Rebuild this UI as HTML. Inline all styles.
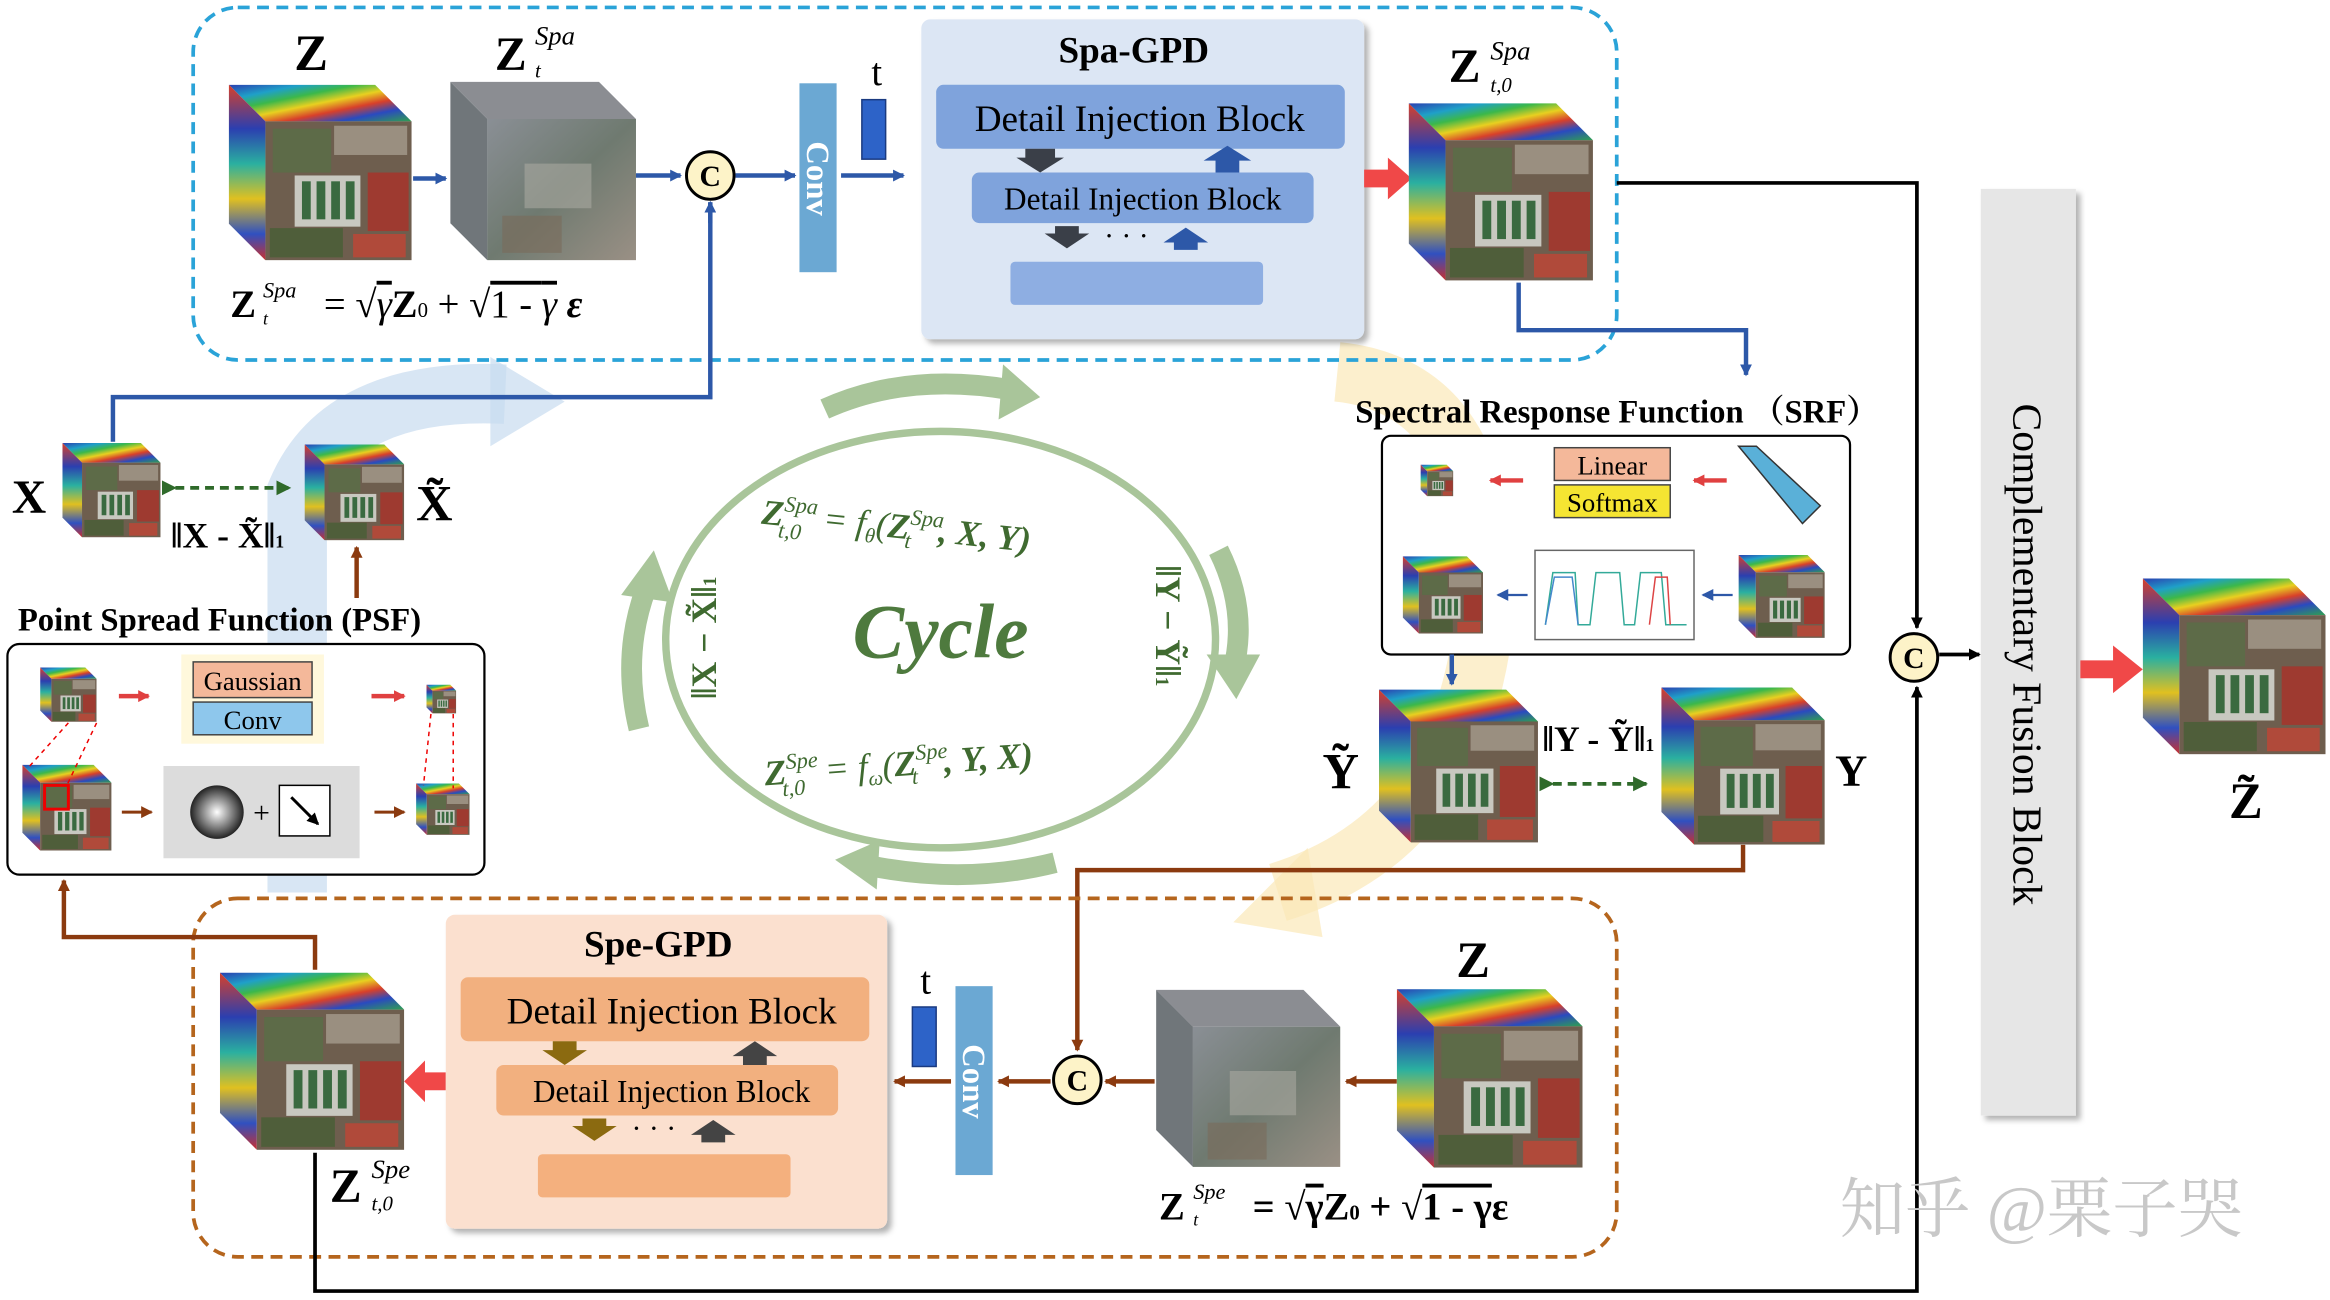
<!DOCTYPE html>
<html><head><meta charset="utf-8">
<style>
html,body{margin:0;padding:0;background:#fff;}
svg{display:block;}
text{font-family:"Liberation Serif","Noto Serif CJK SC",serif;}
</style></head>
<body>
<svg width="2330" height="1300" viewBox="0 0 1568 874" preserveAspectRatio="none" xmlns="http://www.w3.org/2000/svg">
<defs>
<linearGradient id="rb" x1="0" y1="0" x2="1" y2="1">
<stop offset="0" stop-color="#2b3fb0"/><stop offset=".2" stop-color="#1fa0c8"/><stop offset=".35" stop-color="#3cb84a"/><stop offset=".5" stop-color="#e8d020"/><stop offset=".65" stop-color="#d8402a"/><stop offset=".8" stop-color="#2a4ac0"/><stop offset="1" stop-color="#30a050"/>
</linearGradient>
<linearGradient id="rb2" x1="0" y1="0" x2="0" y2="1">
<stop offset="0" stop-color="#d8402a"/><stop offset=".25" stop-color="#2b3fb0"/><stop offset=".45" stop-color="#2ab0a0"/><stop offset=".65" stop-color="#e0c020"/><stop offset=".85" stop-color="#3050c0"/><stop offset="1" stop-color="#c83030"/>
</linearGradient>
<linearGradient id="gr" x1="0" y1="0" x2="1" y2="1">
<stop offset="0" stop-color="#8a8f95"/><stop offset=".5" stop-color="#6f7a70"/><stop offset="1" stop-color="#9a9085"/>
</linearGradient>
<radialGradient id="gs"><stop offset="0" stop-color="#fff"/><stop offset="1" stop-color="#222"/></radialGradient>
<symbol id="cube" viewBox="0 0 125 120">
<polygon points="0,0 100,0 125,25 25,25" fill="url(#rb)"/>
<polygon points="0,0 25,25 25,120 0,95" fill="url(#rb2)"/>
<rect x="25" y="25" width="100" height="95" fill="#6e5e4e"/>
<rect x="30" y="30" width="40" height="30" fill="#5d6b48"/>
<rect x="72" y="28" width="50" height="20" fill="#9a8f80"/>
<rect x="45" y="62" width="45" height="35" fill="#c8c8c0"/>
<rect x="50" y="66" width="6" height="26" fill="#3a6a40"/><rect x="60" y="66" width="6" height="26" fill="#3a6a40"/><rect x="70" y="66" width="6" height="26" fill="#3a6a40"/><rect x="80" y="66" width="6" height="26" fill="#3a6a40"/>
<rect x="95" y="60" width="28" height="40" fill="#9e3a30"/>
<rect x="28" y="98" width="50" height="20" fill="#4f5e3a"/>
<rect x="85" y="102" width="36" height="16" fill="#b04a3a"/>
</symbol>
<symbol id="gcube" viewBox="0 0 125 120">
<polygon points="0,0 100,0 125,25 25,25" fill="#8b8d92"/>
<polygon points="0,0 25,25 25,120 0,95" fill="#70767a"/>
<rect x="25" y="25" width="100" height="95" fill="url(#gr)"/>
<rect x="50" y="55" width="45" height="30" fill="#a9a9a0" opacity=".6"/>
<rect x="35" y="90" width="40" height="25" fill="#7a6a5a" opacity=".6"/>
</symbol>
<marker id="ab" markerWidth="8" markerHeight="8" refX="7" refY="4" orient="auto" markerUnits="userSpaceOnUse"><path d="M0,0 L8,4 L0,8z" fill="#2d58a8"/></marker>
<marker id="ak" markerWidth="8" markerHeight="8" refX="7" refY="4" orient="auto" markerUnits="userSpaceOnUse"><path d="M0,0 L8,4 L0,8z" fill="#000"/></marker>
<marker id="ar" markerWidth="8" markerHeight="8" refX="7" refY="4" orient="auto" markerUnits="userSpaceOnUse"><path d="M0,0 L8,4 L0,8z" fill="#8b3a0f"/></marker>
<marker id="ag" markerWidth="10" markerHeight="10" refX="9" refY="5" orient="auto" markerUnits="userSpaceOnUse"><path d="M0,0 L10,5 L0,10z" fill="#2f6a2a"/></marker>
<marker id="ad" markerWidth="8" markerHeight="8" refX="7" refY="4" orient="auto" markerUnits="userSpaceOnUse"><path d="M0,0 L8,4 L0,8z" fill="#e04040"/></marker>
<filter id="sh"><feDropShadow dx="3" dy="3" stdDeviation="2" flood-opacity=".3"/></filter>
</defs>

<path d="M340,265 Q230,260 200,330 L200,600" stroke="#c8dcef" stroke-width="40" fill="none" opacity=".7"/>
<polygon points="330,240 380,270 330,300" fill="#c8dcef" opacity=".7"/>
<path d="M900,250 Q1000,260 1000,400 Q990,560 860,600" stroke="#fbe8b8" stroke-width="40" fill="none" opacity=".7"/>
<polygon points="880,570 830,620 890,630" fill="#fbe8b8" opacity=".7"/>

<rect x="130" y="5" width="958" height="237" rx="30" fill="none" stroke="#2aa3d8" stroke-width="2.5" stroke-dasharray="8,5"/>
<text x="198" y="47" font-size="34" font-weight="bold">Z</text>
<use href="#cube" x="153" y="57" width="125" height="118"/>
<text x="333" y="47" font-size="32" font-weight="bold">Z</text><text x="360" y="30" font-size="18" font-style="italic">Spa</text><text x="360" y="52" font-size="14" font-style="italic">t</text>
<use href="#gcube" x="303" y="55" width="125" height="120"/>
<line x1="278" y1="120" x2="300" y2="120" stroke="#2d58a8" stroke-width="3" marker-end="url(#ab)"/>
<line x1="428" y1="118" x2="458" y2="118" stroke="#2d58a8" stroke-width="3" marker-end="url(#ab)"/>
<circle cx="478" cy="118" r="16" fill="#fdf3c8" stroke="#000" stroke-width="2"/><text x="478" y="125" font-size="20" text-anchor="middle" font-weight="bold">C</text>
<line x1="495" y1="118" x2="535" y2="118" stroke="#2d58a8" stroke-width="3" marker-end="url(#ab)"/>
<rect x="538" y="56" width="25" height="127" fill="#6ba8d3"/><text transform="translate(543,120) rotate(90)" font-size="22" fill="#fff" text-anchor="middle" font-weight="bold">Conv</text>
<line x1="566" y1="118" x2="608" y2="118" stroke="#2d58a8" stroke-width="3" marker-end="url(#ab)"/>
<text x="590" y="57" font-size="26" text-anchor="middle">t</text>
<rect x="580" y="67" width="16" height="40" fill="#2d63c8" stroke="#1a3a80"/>
<rect x="620" y="13" width="298" height="215" rx="6" fill="#dce6f4" filter="url(#sh)"/>
<text x="763" y="42" font-size="25" font-weight="bold" text-anchor="middle">Spa-GPD</text>
<rect x="630" y="57" width="275" height="43" rx="5" fill="#7fa3dc"/><text x="767" y="88" font-size="25" text-anchor="middle" font-family="Liberation Sans,sans-serif">Detail Injection Block</text>
<polygon points="690,100 710,100 710,106 716,106 700,116 684,106 690,106" fill="#3a3f48"/>
<polygon points="818,116 834,116 834,108 842,108 826,98 810,108 818,108" fill="#2d58a8"/>
<rect x="654" y="116" width="230" height="34" rx="5" fill="#7fa3dc"/><text x="769" y="141" font-size="21" text-anchor="middle" font-family="Liberation Sans,sans-serif">Detail Injection Block</text>
<polygon points="710,152 726,152 726,157 733,157 718,167 703,157 710,157" fill="#3a3f48"/>
<text x="758" y="165" font-size="20" text-anchor="middle">· · ·</text>
<polygon points="790,168 806,168 806,163 813,163 798,153 783,163 790,163" fill="#2d58a8"/>
<rect x="680" y="176" width="170" height="29" rx="3" fill="#8eaee2"/>
<polygon points="918,114 934,114 934,106 950,120 934,134 934,126 918,126" fill="#f04848"/>
<text x="975" y="55" font-size="32" font-weight="bold">Z</text><text x="1003" y="40" font-size="18" font-style="italic">Spa</text><text x="1003" y="62" font-size="14" font-style="italic">t,0</text>
<use href="#cube" x="948" y="68" width="124" height="122"/>
<text x="155" y="213" font-size="26" font-weight="bold">Z</text><text x="177" y="200" font-size="15" font-style="italic">Spa</text><text x="177" y="218" font-size="12" font-style="italic">t</text>
<text x="218" y="213" font-size="26">= √<tspan font-style="italic" text-decoration="overline">γ</tspan><tspan font-weight="bold">Z</tspan><tspan font-size="14">0</tspan> + √<tspan text-decoration="overline">1 - <tspan font-style="italic">γ</tspan></tspan> <tspan font-style="italic" font-weight="bold">ε</tspan></text>

<polyline points="1088,123 1290,123 1290,422" fill="none" stroke="#000" stroke-width="2.5" marker-end="url(#ak)"/>
<polyline points="1022,190 1022,222 1175,222 1175,252" fill="none" stroke="#2d58a8" stroke-width="3" marker-end="url(#ab)"/>
<polyline points="478,136 478,267 76,267 76,297" fill="none" stroke="#2d58a8" stroke-width="3"/>
<line x1="478" y1="150" x2="478" y2="136" stroke="#2d58a8" stroke-width="3" marker-end="url(#ab)"/>

<text x="8" y="345" font-size="32" font-weight="bold">X</text>
<use href="#cube" x="42" y="297" width="66" height="65"/>
<line x1="118" y1="328" x2="195" y2="328" stroke="#2f6a2a" stroke-width="2.5" stroke-dasharray="6,4" marker-end="url(#ag)" marker-start="url(#ag)"/>
<text x="115" y="368" font-size="24" font-weight="bold">‖X - X̃‖<tspan font-size="12">1</tspan></text>
<use href="#cube" x="205" y="297" width="67" height="68"/>
<text x="280" y="350" font-size="34" font-weight="bold">X̃</text>
<line x1="240" y1="402" x2="240" y2="368" stroke="#8b3a0f" stroke-width="3" marker-end="url(#ar)"/>
<text x="12" y="424" font-size="22" font-weight="bold">Point Spread Function (PSF)</text>
<rect x="5" y="433" width="321" height="155" rx="8" fill="#fff" stroke="#000" stroke-width="1.5"/>
<use href="#cube" x="27" y="448" width="38" height="38"/>
<line x1="80" y1="468" x2="100" y2="468" stroke="#e04040" stroke-width="3" marker-end="url(#ad)"/>
<rect x="122" y="440" width="96" height="60" fill="#fff8dc"/>
<rect x="130" y="445" width="80" height="24" fill="#f4b89a" stroke="#444"/><text x="170" y="464" font-size="18" text-anchor="middle">Gaussian</text>
<rect x="130" y="472" width="80" height="22" fill="#8ec7ec" stroke="#444"/><text x="170" y="490" font-size="18" text-anchor="middle">Conv</text>
<line x1="250" y1="468" x2="272" y2="468" stroke="#e04040" stroke-width="3" marker-end="url(#ad)"/>
<use href="#cube" x="287" y="460" width="20" height="20"/>
<use href="#cube" x="15" y="513" width="60" height="60"/>
<rect x="30" y="528" width="16" height="16" fill="none" stroke="#e00" stroke-width="2"/>
<line x1="82" y1="546" x2="102" y2="546" stroke="#8b3a0f" stroke-width="2" marker-end="url(#ar)"/>
<rect x="110" y="515" width="132" height="62" fill="#dcdcdc"/>
<circle cx="146" cy="546" r="18" fill="url(#gs)"/><text x="176" y="553" font-size="20" text-anchor="middle">+</text>
<rect x="188" y="528" width="34" height="34" fill="#fff" stroke="#000"/><line x1="196" y1="536" x2="214" y2="554" stroke="#000" stroke-width="2" marker-end="url(#ak)"/>
<line x1="252" y1="546" x2="272" y2="546" stroke="#8b3a0f" stroke-width="2" marker-end="url(#ar)"/>
<use href="#cube" x="280" y="526" width="36" height="36"/>
<line x1="46" y1="486" x2="20" y2="515" stroke="#e00" stroke-dasharray="3,3"/><line x1="65" y1="486" x2="45" y2="528" stroke="#e00" stroke-dasharray="3,3"/>
<line x1="290" y1="480" x2="285" y2="528" stroke="#e00" stroke-dasharray="3,3"/><line x1="305" y1="480" x2="305" y2="530" stroke="#e00" stroke-dasharray="3,3"/>

<ellipse cx="633" cy="430" rx="185" ry="140" fill="none" stroke="#a9c59a" stroke-width="5"/>
<path d="M555,275 Q610,250 680,262" stroke="#a9c59a" stroke-width="14" fill="none"/><polygon points="675,245 700,267 672,282" fill="#a9c59a"/>
<path d="M820,370 Q840,410 830,450" stroke="#a9c59a" stroke-width="14" fill="none"/><polygon points="812,440 832,470 848,440" fill="#a9c59a"/>
<path d="M710,580 Q650,595 585,582" stroke="#a9c59a" stroke-width="14" fill="none"/><polygon points="592,565 562,578 590,598" fill="#a9c59a"/>
<path d="M430,490 Q418,440 435,395" stroke="#a9c59a" stroke-width="14" fill="none"/><polygon points="418,400 440,370 453,405" fill="#a9c59a"/>
<text x="633" y="442" font-size="52" font-weight="bold" font-style="italic" fill="#4e7a3e" text-anchor="middle">Cycle</text>
<text transform="translate(512,352) rotate(6)" font-size="24" font-style="italic" fill="#3f6a30"><tspan font-weight="bold">Z</tspan><tspan font-size="15" dy="-10">Spa</tspan><tspan font-size="15" dx="-25" dy="18">t,0</tspan><tspan dx="8" dy="-8"> = f</tspan><tspan font-size="14" dy="5">θ</tspan><tspan dy="-5">(</tspan><tspan font-weight="bold">Z</tspan><tspan font-size="15" dy="-10">Spa</tspan><tspan font-size="15" dx="-25" dy="16">t</tspan><tspan dx="18" dy="-6" font-weight="bold">, X, Y)</tspan></text>
<text transform="translate(515,528) rotate(-4)" font-size="24" font-style="italic" fill="#3f6a30"><tspan font-weight="bold">Z</tspan><tspan font-size="15" dy="-10">Spe</tspan><tspan font-size="15" dx="-25" dy="18">t,0</tspan><tspan dx="8" dy="-8"> = f</tspan><tspan font-size="14" dy="5">ω</tspan><tspan dy="-5">(</tspan><tspan font-weight="bold">Z</tspan><tspan font-size="15" dy="-10">Spe</tspan><tspan font-size="15" dx="-25" dy="16">t</tspan><tspan dx="18" dy="-6" font-weight="bold">, Y, X)</tspan></text>
<text transform="translate(482,470) rotate(-90)" font-size="24" font-weight="bold" fill="#3f6a30">‖X − X̃‖<tspan font-size="13">1</tspan></text>
<text transform="translate(778,380) rotate(90)" font-size="24" font-weight="bold" fill="#3f6a30">‖Y − Ỹ‖<tspan font-size="13">1</tspan></text>

<text x="912" y="284" font-size="22" font-weight="bold">Spectral Response Function （SRF）</text>
<rect x="930" y="293" width="315" height="147" rx="6" fill="#fff" stroke="#000" stroke-width="1.5"/>
<use href="#cube" x="956" y="312" width="22" height="22"/>
<line x1="1025" y1="323" x2="1003" y2="323" stroke="#e04040" stroke-width="3" marker-end="url(#ad)"/>
<rect x="1046" y="301" width="78" height="22" fill="#f4b89a" stroke="#444"/><text x="1085" y="319" font-size="18" text-anchor="middle">Linear</text>
<rect x="1046" y="326" width="78" height="22" fill="#f5e532" stroke="#444"/><text x="1085" y="344" font-size="18" text-anchor="middle">Softmax</text>
<line x1="1162" y1="323" x2="1140" y2="323" stroke="#e04040" stroke-width="3" marker-end="url(#ad)"/>
<polygon points="1170,300 1182,300 1225,340 1213,352" fill="#5ab0d8" stroke="#333"/>
<use href="#cube" x="944" y="373" width="54" height="54"/>
<rect x="1033" y="370" width="107" height="60" fill="#fff" stroke="#666"/>
<polyline points="1040,420 1045,385 1060,385 1062,420 1070,420 1074,385 1090,385 1093,420 1100,420 1104,385 1118,385 1121,420 1135,420" fill="none" stroke="#3a9" stroke-width="1"/>
<polyline points="1040,420 1046,388 1058,388 1062,420" fill="none" stroke="#48c" stroke-width="1"/>
<polyline points="1110,420 1114,388 1122,388 1124,420" fill="none" stroke="#d44" stroke-width="1"/>
<line x1="1028" y1="400" x2="1008" y2="400" stroke="#2d58a8" stroke-width="1.5" marker-end="url(#ab)"/>
<line x1="1166" y1="400" x2="1146" y2="400" stroke="#2d58a8" stroke-width="1.5" marker-end="url(#ab)"/>
<use href="#cube" x="1170" y="372" width="58" height="58"/>
<line x1="977" y1="440" x2="977" y2="460" stroke="#2d58a8" stroke-width="3" marker-end="url(#ab)"/>
<text x="890" y="530" font-size="34" font-weight="bold">Ỹ</text>
<use href="#cube" x="928" y="462" width="107" height="106"/>
<text x="1038" y="505" font-size="24" font-weight="bold">‖Y - Ỹ‖<tspan font-size="12">1</tspan></text>
<line x1="1045" y1="527" x2="1108" y2="527" stroke="#2f6a2a" stroke-width="2.5" stroke-dasharray="6,4" marker-end="url(#ag)" marker-start="url(#ag)"/>
<use href="#cube" x="1118" y="462" width="110" height="106"/>
<text x="1235" y="528" font-size="30" font-weight="bold">Y</text>
<polyline points="1173,568 1173,585 725,585 725,706" fill="none" stroke="#8b3a0f" stroke-width="3" marker-end="url(#ar)"/>

<circle cx="1288" cy="442" r="16" fill="#fdf3c8" stroke="#000" stroke-width="2"/><text x="1288" y="449" font-size="20" text-anchor="middle" font-weight="bold">C</text>
<line x1="1305" y1="440" x2="1332" y2="440" stroke="#000" stroke-width="2.5" marker-end="url(#ak)"/>
<rect x="1333" y="127" width="64" height="623" fill="#e6e6e6" filter="url(#sh)"/>
<text transform="translate(1355,440) rotate(90)" font-size="28" text-anchor="middle">Complementary Fusion Block</text>
<polygon points="1400,444 1422,444 1422,434 1442,450 1422,466 1422,456 1400,456" fill="#f04848"/>
<use href="#cube" x="1442" y="388" width="123" height="120"/>
<text x="1500" y="550" font-size="34" font-weight="bold">Z̃</text>

<rect x="130" y="604" width="958" height="241" rx="30" fill="none" stroke="#b5651d" stroke-width="2.5" stroke-dasharray="8,5"/>
<use href="#cube" x="148" y="652" width="124" height="123"/>
<text x="222" y="808" font-size="32" font-weight="bold">Z</text><text x="250" y="792" font-size="18" font-style="italic">Spe</text><text x="250" y="814" font-size="14" font-style="italic">t,0</text>
<polygon points="300,721 286,721 286,713 272,727 286,741 286,733 300,733" fill="#f04848"/>
<rect x="300" y="615" width="297" height="211" rx="6" fill="#fbe0cf" filter="url(#sh)"/>
<text x="443" y="643" font-size="25" font-weight="bold" text-anchor="middle">Spe-GPD</text>
<rect x="310" y="657" width="275" height="43" rx="5" fill="#f2b07f"/><text x="452" y="688" font-size="25" text-anchor="middle" font-family="Liberation Sans,sans-serif">Detail Injection Block</text>
<polygon points="372,700 388,700 388,706 395,706 380,716 365,706 372,706" fill="#8b6a10"/>
<polygon points="500,716 516,716 516,710 523,710 508,700 493,710 500,710" fill="#444"/>
<rect x="334" y="716" width="230" height="34" rx="5" fill="#f2b07f"/><text x="452" y="741" font-size="21" text-anchor="middle" font-family="Liberation Sans,sans-serif">Detail Injection Block</text>
<polygon points="392,752 408,752 408,757 415,757 400,767 385,757 392,757" fill="#8b6a10"/>
<text x="440" y="765" font-size="20" text-anchor="middle">· · ·</text>
<polygon points="472,768 488,768 488,763 495,763 480,753 465,763 472,763" fill="#444"/>
<rect x="362" y="776" width="170" height="29" rx="3" fill="#f4b07e"/>
<text x="623" y="668" font-size="26" text-anchor="middle">t</text>
<rect x="614" y="677" width="16" height="40" fill="#2d63c8" stroke="#1a3a80"/>
<line x1="640" y1="727" x2="602" y2="727" stroke="#8b3a0f" stroke-width="3" marker-end="url(#ar)"/>
<rect x="643" y="663" width="25" height="127" fill="#6ba8d3"/><text transform="translate(648,727) rotate(90)" font-size="22" fill="#fff" text-anchor="middle" font-weight="bold">Conv</text>
<line x1="707" y1="727" x2="672" y2="727" stroke="#8b3a0f" stroke-width="3" marker-end="url(#ar)"/>
<circle cx="725" cy="726" r="16" fill="#fdf3c8" stroke="#000" stroke-width="2"/><text x="725" y="733" font-size="20" text-anchor="middle" font-weight="bold">C</text>
<line x1="777" y1="727" x2="744" y2="727" stroke="#8b3a0f" stroke-width="3" marker-end="url(#ar)"/>
<use href="#gcube" x="778" y="665" width="124" height="120"/>
<line x1="940" y1="727" x2="906" y2="727" stroke="#8b3a0f" stroke-width="3" marker-end="url(#ar)"/>
<text x="980" y="657" font-size="34" font-weight="bold">Z</text>
<use href="#cube" x="940" y="665" width="125" height="120"/>
<text x="780" y="820" font-size="26" font-weight="bold">Z</text><text x="803" y="806" font-size="15" font-style="italic">Spe</text><text x="803" y="824" font-size="12" font-style="italic">t</text>
<text x="843" y="820" font-size="26" font-weight="bold">= √<tspan text-decoration="overline">γ</tspan>Z<tspan font-size="14">0</tspan> + √<tspan text-decoration="overline">1 - γ</tspan>ε</text>

<polyline points="212,652 212,630 43,630 43,592" fill="none" stroke="#8b3a0f" stroke-width="3" marker-end="url(#ar)"/>
<polyline points="212,775 212,868 1290,868 1290,462" fill="none" stroke="#000" stroke-width="2.5" marker-end="url(#ak)"/>

<text x="1238" y="828" font-size="44" fill="#c8c8c8" font-family="Liberation Sans,'Noto Sans CJK SC',sans-serif">知乎 @栗子哭</text>
</svg>
</body></html>
